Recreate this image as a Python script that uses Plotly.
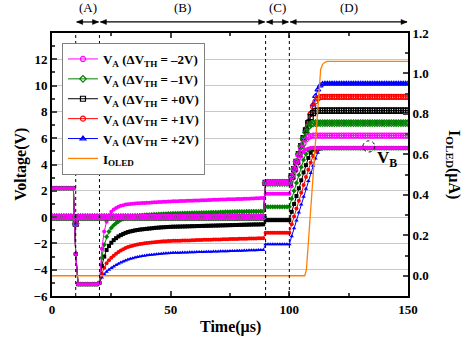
import plotly.graph_objects as go

# ---------------- data ----------------
T = list(range(151))  # time in microseconds, one marker per us

VA_PRE = [0.0] * 10 + [-0.5] + [0.0] * 79 + [2.6] * 11  # t = 0..100
VA_M = VA_PRE + [3.1, 3.65, 4.2, 4.7, 5.2, 5.6, 5.9, 6.08, 6.16, 6.2] + [6.2] * 40
VA_G = VA_PRE + [3.1, 3.65, 4.2, 4.8, 5.4, 5.95, 6.45, 6.85, 7.05, 7.12, 7.15] + [7.15] * 39
VA_K = VA_PRE + [3.1, 3.65, 4.2, 4.8, 5.4, 6.0, 6.6, 7.15, 7.6, 7.9, 8.05, 8.1] + [8.1] * 38
VA_R = VA_PRE + [3.1, 3.65, 4.2, 4.8, 5.4, 6.0, 6.65, 7.25, 7.85, 8.4, 8.8, 9.02, 9.12, 9.15] + [9.15] * 36
VA_B = VA_PRE + [3.1, 3.65, 4.2, 4.8, 5.4, 6.0, 6.65, 7.25, 7.9, 8.55, 9.2, 9.7, 10.0, 10.12, 10.15] + [10.15] * 35

VB_PRE = [2.2] * 10 + [-2.8] + [-5.1] * 9  # t = 0..19
VB_M = VB_PRE + [
    -5.0, -2.4, -1.1, -0.35, 0.1, 0.4, 0.58, 0.7, 0.79, 0.86,
    0.91, 0.95, 0.98, 1.0, 1.02, 1.04, 1.05, 1.06, 1.07, 1.08,
    1.09, 1.1, 1.11, 1.12, 1.13, 1.14, 1.15, 1.16, 1.17, 1.18,
    1.19, 1.2, 1.2, 1.21, 1.22, 1.23, 1.23, 1.24, 1.25, 1.25,
    1.26, 1.27, 1.27, 1.28, 1.29, 1.29, 1.3, 1.3, 1.31, 1.32,
    1.32, 1.33, 1.33, 1.34, 1.35, 1.35, 1.36, 1.36, 1.37, 1.37,
    1.38, 1.39, 1.39, 1.4, 1.41, 1.42, 1.43, 1.44, 1.45, 1.46,
] + [1.77] * 10 + [1.77, 2.35, 2.95, 3.55, 4.1, 4.6, 4.95, 5.15, 5.22] + [5.25] * 42
VB_G = VB_PRE + [
    -5.0, -3.1, -2.1, -1.5, -1.1, -0.82, -0.62, -0.46, -0.33, -0.22,
    -0.14, -0.07, -0.02, 0.02, 0.05, 0.08, 0.1, 0.12, 0.14, 0.16,
    0.17, 0.18, 0.19, 0.2, 0.21, 0.22, 0.23, 0.24, 0.25, 0.26,
    0.27, 0.28, 0.28, 0.29, 0.29, 0.3, 0.3, 0.31, 0.31, 0.32,
    0.32, 0.33, 0.33, 0.34, 0.34, 0.35, 0.35, 0.36, 0.36, 0.37,
    0.37, 0.38, 0.38, 0.39, 0.39, 0.4, 0.4, 0.41, 0.41, 0.42,
    0.42, 0.42, 0.43, 0.43, 0.43, 0.44, 0.44, 0.44, 0.45, 0.45,
] + [0.78] * 10 + [0.78, 1.4, 2.0, 2.6, 3.2, 3.8, 4.35, 4.8, 5.1, 5.2] + [5.25] * 41
VB_K = VB_PRE + [
    -5.0, -3.7, -3.0, -2.5, -2.2, -1.95, -1.75, -1.6, -1.47, -1.37,
    -1.28, -1.2, -1.14, -1.09, -1.05, -1.01, -0.98, -0.95, -0.93, -0.91,
    -0.89, -0.87, -0.85, -0.83, -0.81, -0.8, -0.78, -0.77, -0.76, -0.75,
    -0.74, -0.73, -0.73, -0.72, -0.72, -0.71, -0.71, -0.7, -0.7, -0.69,
    -0.69, -0.68, -0.68, -0.67, -0.67, -0.66, -0.66, -0.65, -0.65, -0.64,
    -0.64, -0.63, -0.63, -0.62, -0.62, -0.61, -0.61, -0.6, -0.6, -0.59,
    -0.59, -0.58, -0.58, -0.57, -0.57, -0.56, -0.56, -0.56, -0.55, -0.55,
] + [-0.23] * 10 + [-0.23, 0.4, 1.0, 1.6, 2.2, 2.8, 3.4, 3.95, 4.5, 4.9, 5.15, 5.22] + [5.25] * 39
VB_R = VB_PRE + [
    -5.0, -4.3, -3.85, -3.5, -3.28, -3.1, -2.93, -2.78, -2.65, -2.54,
    -2.44, -2.35, -2.28, -2.22, -2.17, -2.12, -2.08, -2.05, -2.02, -1.99,
    -1.97, -1.95, -1.93, -1.91, -1.89, -1.87, -1.86, -1.84, -1.83, -1.82,
    -1.81, -1.8, -1.8, -1.79, -1.79, -1.78, -1.78, -1.77, -1.77, -1.76,
    -1.76, -1.75, -1.75, -1.74, -1.73, -1.73, -1.72, -1.72, -1.71, -1.71,
    -1.7, -1.7, -1.69, -1.69, -1.68, -1.67, -1.67, -1.66, -1.66, -1.65,
    -1.65, -1.64, -1.64, -1.63, -1.63, -1.62, -1.62, -1.61, -1.61, -1.6,
] + [-1.19] * 10 + [-1.19, -0.55, 0.05, 0.65, 1.25, 1.85, 2.45, 3.05, 3.6, 4.15, 4.65, 5.0, 5.18, 5.23] + [5.25] * 37
VB_B = VB_PRE + [
    -5.0, -4.6, -4.35, -4.15, -4.0, -3.88, -3.76, -3.65, -3.55, -3.46,
    -3.38, -3.3, -3.23, -3.17, -3.12, -3.07, -3.03, -2.99, -2.96, -2.93,
    -2.9, -2.88, -2.86, -2.84, -2.82, -2.8, -2.78, -2.76, -2.75, -2.74,
    -2.73, -2.72, -2.72, -2.71, -2.71, -2.7, -2.69, -2.69, -2.68, -2.68,
    -2.67, -2.66, -2.66, -2.65, -2.65, -2.64, -2.63, -2.63, -2.62, -2.62,
    -2.61, -2.6, -2.6, -2.59, -2.59, -2.58, -2.57, -2.57, -2.56, -2.56,
    -2.55, -2.54, -2.54, -2.53, -2.53, -2.52, -2.52, -2.51, -2.51, -2.5,
] + [-2.07] * 10 + [-2.07, -1.45, -0.85, -0.25, 0.35, 0.95, 1.55, 2.15, 2.75, 3.35, 3.9, 4.45, 4.9, 5.15, 5.22] + [5.25] * 36

T_OLED = [0, 106.5, 107.2, 113.2, 114, 115, 116, 150]
I_OLED = [0, 0, 0.03, 1.02, 1.045, 1.055, 1.06, 1.06]

SERIES_NAMES = ["–2V", "–1V", "+0V", "+1V", "+2V"]
COLORS = ["#FF00FF", "#008000", "#000000", "#FF0000", "#0000FF"]
SYMBOLS = ["circle", "diamond", "square", "circle", "triangle-up"]
VA_ALL = [VA_M, VA_G, VA_K, VA_R, VA_B]
VB_ALL = [VB_M, VB_G, VB_K, VB_R, VB_B]

PHASES = ["(A)", "(B)", "(C)", "(D)"]
PHASE_BOUNDS = [0, 10, 20, 90, 100, 150]

FONT = "Liberation Serif"
f = go.Figure()

# V_B (filled) drawn first, magenta last (on top)
for i in reversed(range(5)):
    f.add_trace(go.Scatter(
        x=T, y=VB_ALL[i], mode="lines+markers", showlegend=False,
        line=dict(color=COLORS[i], width=1),
        marker=dict(symbol=SYMBOLS[i], size=4, color=COLORS[i], line=dict(width=0)),
    ))
# V_A (open)
for i in reversed(range(5)):
    f.add_trace(go.Scatter(
        x=T, y=VA_ALL[i], mode="lines+markers", legendrank=i + 1,
        name="V<sub>A</sub> (ΔV<sub>TH</sub> = " + SERIES_NAMES[i] + ")",
        line=dict(color=COLORS[i], width=1),
        marker=dict(symbol=SYMBOLS[i] + "-open", size=5, color=COLORS[i], line=dict(width=1.2, color=COLORS[i])),
    ))
f.add_trace(go.Scatter(
    x=T_OLED, y=I_OLED, mode="lines", yaxis="y2", legendrank=6,
    name="I<sub>OLED</sub>", line=dict(color="#FF8000", width=1.3),
))

tickfont = dict(family=FONT, size=13, color="black", weight="bold")
f.update_layout(
    width=474, height=349,
    margin=dict(l=52, r=66, t=33, b=53),
    paper_bgcolor="white", plot_bgcolor="white",
    showlegend=True,
    legend=dict(x=0.028, y=0.962, xanchor="left", yanchor="top",
                bgcolor="white", bordercolor="#808080", borderwidth=1,
                font=dict(family=FONT, size=13, color="black", weight="bold"),
                itemwidth=30, tracegroupgap=0),
    xaxis=dict(range=[0, 150], tickvals=[0, 50, 100, 150], ticks="inside", ticklen=5,
               tickwidth=1.5, showline=True, linewidth=2, linecolor="black",
               mirror="ticks", showgrid=False, zeroline=False, tickfont=tickfont,
               minor=dict(tickvals=[25, 75, 125], ticks="inside", ticklen=3, tickwidth=1.5, showgrid=False)),
    yaxis=dict(range=[-6, 14], tickvals=list(range(-6, 13, 2)), ticks="inside", ticklen=5,
               tickwidth=1.5, showline=True, linewidth=2, linecolor="black",
               showgrid=True, gridcolor="#C8C8C8", gridwidth=1, zeroline=False,
               tickfont=tickfont,
               minor=dict(tickvals=list(range(-5, 14, 2)), ticks="inside", ticklen=3, tickwidth=1.5, showgrid=False)),
    yaxis2=dict(range=[-0.1, 1.2], overlaying="y", side="right",
                tickvals=[0, 0.2, 0.4, 0.6, 0.8, 1.0, 1.2], tickformat=".1f",
                ticks="inside", ticklen=5, tickwidth=1.5, showline=True, linewidth=2,
                linecolor="black", showgrid=False, zeroline=False, tickfont=tickfont,
                minor=dict(tickvals=[-0.1, 0.1, 0.3, 0.5, 0.7, 0.9, 1.1], ticks="inside", ticklen=3, tickwidth=1.5, showgrid=False)),
)

# dotted phase boundaries
for xb in PHASE_BOUNDS[1:5]:
    f.add_shape(type="line", x0=xb, x1=xb, y0=0, y1=1, xref="x", yref="paper",
                line=dict(color="black", width=1, dash="dot"))

# phase arrows (line + pixel-sized heads) and labels
ARROW_Y = 1.042
for k, lab in enumerate(PHASES):
    a, b = PHASE_BOUNDS[k + 1] + 0.4, PHASE_BOUNDS[k + 2] - 0.4
    f.add_shape(type="line", x0=a, x1=b, y0=ARROW_Y, y1=ARROW_Y, xref="x", yref="paper",
                line=dict(color="black", width=1.2))
    f.add_shape(type="path", xref="x", yref="paper", xsizemode="pixel", ysizemode="pixel",
                xanchor=a, yanchor=ARROW_Y, path="M0,0 L6,2.5 L6,-2.5 Z",
                fillcolor="black", line=dict(color="black", width=0.5))
    f.add_shape(type="path", xref="x", yref="paper", xsizemode="pixel", ysizemode="pixel",
                xanchor=b, yanchor=ARROW_Y, path="M0,0 L-6,2.5 L-6,-2.5 Z",
                fillcolor="black", line=dict(color="black", width=0.5))
    f.add_annotation(x=(PHASE_BOUNDS[k + 1] + PHASE_BOUNDS[k + 2]) / 2, y=1.098,
                     xref="x", yref="paper", text=lab, yanchor="middle",
                     showarrow=False, font=dict(family=FONT, size=13, color="black"))

# V_B marker
f.add_shape(type="circle", x0=131, x1=136, y0=4.95, y1=5.8, xref="x", yref="y",
            line=dict(color="black", width=1, dash="dot"))
f.add_annotation(x=141, y=4.4, xref="x", yref="y", text="V<sub>B</sub>", showarrow=False,
                 font=dict(family=FONT, size=17, color="black", weight="bold"))

# axis titles
f.add_annotation(x=0.5, y=-0.118, xref="paper", yref="paper", text="Time(μs)",
                 showarrow=False, yanchor="middle",
                 font=dict(family=FONT, size=16, color="black", weight="bold"))
f.add_annotation(x=-0.12, y=0.5, xref="paper", yref="paper", text="Voltage(V)",
                 showarrow=False, textangle=-90,
                 font=dict(family=FONT, size=16, color="black", weight="bold"))
f.add_annotation(x=1.16, y=0.5, xref="paper", yref="paper", text="I<sub>OLED</sub>(μA)",
                 showarrow=False, textangle=90,
                 font=dict(family=FONT, size=16, color="black", weight="bold"))

f.write_html("out.html")
